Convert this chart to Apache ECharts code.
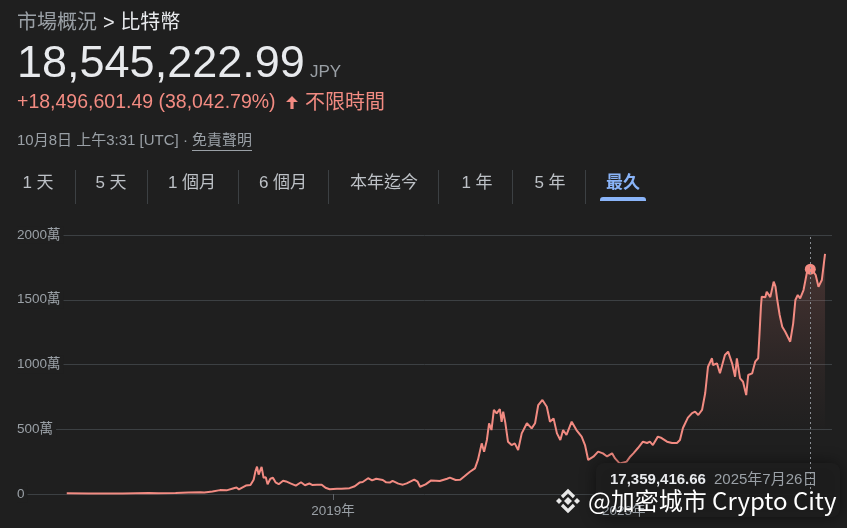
<!DOCTYPE html>
<html>
<head>
<meta charset="utf-8">
<script src="https://cdn.jsdelivr.net/npm/echarts@6/dist/echarts.min.js"></script>
<style>
  html, body { margin: 0; padding: 0; background: #1f1f1f; }
  #chart { width: 847px; height: 528px; }
</style>
</head>
<body>
<div id="chart"></div>
<script>
// BTC / JPY closing prices (JPY), full history
const dates = [
  '2015-05-04','2015-08-20','2015-11-05','2016-02-10','2016-06-18','2016-08-05','2016-11-01',
  '2017-01-04','2017-01-12','2017-03-05','2017-03-25','2017-05-05','2017-06-12','2017-07-15','2017-08-20',
  '2017-09-03','2017-09-15','2017-10-20','2017-11-12','2017-11-28','2017-12-07','2017-12-15','2017-12-23',
  '2018-01-01','2018-01-07','2018-01-17','2018-01-28','2018-02-06','2018-02-20','2018-03-05','2018-03-18',
  '2018-04-03','2018-04-25','2018-05-10','2018-06-01','2018-06-28','2018-07-24','2018-08-13','2018-09-04',
  '2018-09-18','2018-10-12','2018-11-05','2018-11-24','2018-12-15',
  '2019-01-20','2019-02-12','2019-03-25','2019-04-20','2019-05-14','2019-05-30','2019-06-26','2019-07-16',
  '2019-08-06','2019-09-08','2019-09-25','2019-10-13','2019-10-27','2019-11-25','2019-12-18',
  '2020-01-06','2020-02-13','2020-03-01','2020-03-13','2020-04-10','2020-05-08','2020-06-01','2020-06-20',
  '2020-07-27','2020-08-10','2020-09-08','2020-10-01','2020-10-21','2020-11-19','2020-12-14','2020-12-29',
  '2021-01-17','2021-01-29','2021-02-12','2021-02-23','2021-03-07','2021-03-19','2021-04-02','2021-04-18',
  '2021-04-27','2021-05-05','2021-05-16','2021-05-29','2021-06-16','2021-07-02','2021-07-19','2021-08-06',
  '2021-09-01','2021-09-25','2021-10-12','2021-10-28','2021-11-18','2021-12-10','2021-12-26',
  '2022-01-13','2022-01-30','2022-02-16','2022-03-02','2022-03-19','2022-04-14','2022-05-08','2022-06-03',
  '2022-06-20','2022-07-06','2022-08-01','2022-08-25','2022-09-18','2022-10-09','2022-11-03','2022-11-18',
  '2022-12-12',
  '2023-01-15','2023-02-03','2023-02-18','2023-03-13','2023-04-07','2023-04-28','2023-05-12','2023-05-27',
  '2023-06-21','2023-07-10','2023-08-06','2023-08-31','2023-09-25','2023-10-10','2023-10-25','2023-11-19',
  '2023-12-10','2023-12-25',
  '2024-01-10','2024-01-29','2024-02-14','2024-02-28','2024-03-19','2024-03-24','2024-04-13','2024-04-28',
  '2024-05-23','2024-06-08','2024-06-28','2024-07-13','2024-07-22','2024-08-07','2024-08-22','2024-09-07',
  '2024-09-17','2024-10-07','2024-10-22','2024-11-06','2024-11-13','2024-11-20','2024-11-24','2024-12-12',
  '2024-12-19',
  '2025-01-06','2025-01-23','2025-02-01','2025-02-10','2025-02-22','2025-03-07','2025-03-22','2025-04-16',
  '2025-05-01','2025-05-12','2025-05-24','2025-06-05','2025-06-22','2025-07-14','2025-07-26','2025-08-10',
  '2025-08-22','2025-09-05','2025-09-22','2025-09-30','2025-10-08'
];
const prices = [
  48621.5, 30000, 46000, 45000, 80000, 65000, 80000,
  120000, 95000, 140000, 110000, 200000, 300000, 280000, 450000,
  500000, 360000, 650000, 700000, 1100000, 1750000, 2110000, 1500000,
  1650000, 2100000, 1250000, 1300000, 750000, 1180000, 1250000, 900000,
  760000, 1030000, 970000, 820000, 650000, 910000, 680000, 810000,
  700000, 710000, 720000, 480000, 370000,
  400000, 400000, 450000, 600000, 880000, 930000, 1220000, 1050000,
  1180000, 1080000, 900000, 880000, 1020000, 800000, 720000,
  820000, 1110000, 950000, 560000, 740000, 1050000, 1030000, 1000000,
  1180000, 1260000, 1080000, 1100000, 1350000, 1720000, 1980000, 2630000,
  3910000, 3270000, 4170000, 5460000, 4940000, 6490000, 6230000, 6550000,
  5580000, 6360000, 5460000, 4040000, 3780000, 3910000, 3400000, 4680000,
  5460000, 5070000, 5460000, 6870000, 7260000, 6740000, 5580000,
  5840000, 4680000, 4170000, 4940000, 4560000, 5580000, 4940000, 4430000,
  3780000, 2630000, 2880000, 3270000, 3140000, 2900000, 3140000, 2750000,
  2350000,
  2500000, 2900000, 3140000, 3550000, 4040000, 3940000, 4040000, 3780000,
  4430000, 4320000, 4040000, 3940000, 3940000, 4170000, 5100000, 5900000,
  6250000, 6360000,
  6100000, 6490000, 7800000, 9830000, 10480000, 9960000, 10090000, 9320000,
  10730000, 10990000, 10090000, 9060000, 10480000, 8930000, 8670000, 7640000,
  9190000, 9320000, 10220000, 10480000, 12410000, 14500000, 15240000, 15200000,
  15620000,
  15200000, 16400000, 16010000, 14980000, 13820000, 12920000, 12530000, 11760000,
  13180000, 14980000, 15370000, 15110000, 15750000, 17500000, 17359416.66, 17170000,
  16910000, 16000000, 16530000, 16660000, 18545222.99
];

// Highlighted day
const hoverDate = '2025-07-26';
const hoverPrice = 17359416.66;

// Axis ticks and range
const xRange = ['2014-08-27', '2025-11-12'];
const xTickYears = [2019, 2023];
const yTickValues = [0, 5000000, 10000000, 15000000, 20000000];
const yTickLabels = ['0', '500萬', '1000萬', '1500萬', '2000萬'];

// Range selector
const tabLabels = ['1 天', '5 天', '1 個月', '6 個月', '本年迄今', '1 年', '5 年', '最久'];
const tabCenters = [38, 111, 192, 283, 384, 477, 550, 623];
const tabDividers = [75, 147, 238, 328, 438, 512, 585];

const FONT = "'Liberation Sans', Arial, 'Noto Sans CJK TC', sans-serif";
const CJK = "'Noto Sans CJK TC', 'Liberation Sans', sans-serif";
const BG = '#1f1f1f';
const LINE = '#f28b82';

// dates are plotted as UTC day timestamps on a numeric axis
function ts(s) {
  const [y, m, d] = s.split('-').map(Number);
  return Date.UTC(y, m - 1, d);
}
const seriesData = dates.map((d, i) => [ts(d), prices[i]]);
const yearStamps = xTickYears.map(y => Date.UTC(y, 0, 1));

function fmtPrice(v) {
  return v.toLocaleString('en-US', { minimumFractionDigits: 2, maximumFractionDigits: 2 });
}
function fmtDate(s) {
  const [y, m, d] = s.split('-').map(Number);
  return y + '年' + m + '月' + d + '日';
}

// filled "up" arrow next to the change figure
const arrow = { cx: 292, top: 96, bottom: 109 };
const arrowPoints = [
  [arrow.cx, arrow.top], [arrow.cx + 6, arrow.top + 6], [arrow.cx + 1.6, arrow.top + 6],
  [arrow.cx + 1.6, arrow.bottom], [arrow.cx - 1.6, arrow.bottom], [arrow.cx - 1.6, arrow.top + 6],
  [arrow.cx - 6, arrow.top + 6]
];

const graphics = [
  // header
  { type: 'text', x: 17, y: 23, style: { text: '市場概況', fill: '#9aa0a6', font: `20px ${FONT}`, verticalAlign: 'middle' } },
  { type: 'text', x: 103, y: 23, style: { text: '> 比特幣', fill: '#e8eaed', font: `20px ${FONT}`, verticalAlign: 'middle' } },
  { type: 'text', x: 17, y: 65, style: { text: '18,545,222.99', fill: '#e8eaed', font: `45px ${FONT}`, verticalAlign: 'middle' } },
  { type: 'text', x: 310, y: 72, style: { text: 'JPY', fill: '#9aa0a6', font: `17px ${FONT}`, verticalAlign: 'middle' } },
  { type: 'text', x: 17, y: 103, style: { text: '+18,496,601.49 (38,042.79%)', fill: LINE, font: `19.5px ${FONT}`, verticalAlign: 'middle' } },
  { type: 'polygon', shape: { points: arrowPoints }, style: { fill: LINE } },
  { type: 'text', x: 305, y: 103, style: { text: '不限時間', fill: LINE, font: `20px ${FONT}`, verticalAlign: 'middle' } },
  { type: 'text', x: 17, y: 141, style: { text: '10月8日 上午3:31 [UTC] · ', fill: '#9aa0a6', font: `15px ${FONT}`, verticalAlign: 'middle' } },
  { type: 'text', x: 192, y: 141, style: { text: '免責聲明', fill: '#9aa0a6', font: `15px ${FONT}`, verticalAlign: 'middle' } },
  { type: 'line', shape: { x1: 192, y1: 150.5, x2: 252, y2: 150.5 }, style: { stroke: '#9aa0a6', lineWidth: 1 } },
  // selected-range underline
  { type: 'rect', shape: { x: 600, y: 197, width: 46, height: 4, r: [3, 3, 0, 0] }, style: { fill: '#8ab4f8' } }
];
tabLabels.forEach((t, i) => {
  const active = i === tabLabels.length - 1;
  graphics.push({ type: 'text', x: tabCenters[i], y: 183, style: {
    text: t, fill: active ? '#8ab4f8' : '#bdc1c6',
    font: `${active ? 'bold ' : ''}17px ${FONT}`, align: 'center', verticalAlign: 'middle' } });
});
tabDividers.forEach(x => {
  graphics.push({ type: 'line', shape: { x1: x + 0.5, y1: 170, x2: x + 0.5, y2: 204 }, style: { stroke: '#3c4043', lineWidth: 1 } });
});

// hover read-out box
graphics.push({ type: 'rect', z: 5, shape: { x: 596, y: 463, width: 244, height: 54, r: 8 },
  style: { fill: 'rgba(30,30,30,0.9)', shadowBlur: 16, shadowColor: 'rgba(0,0,0,0.55)' } });
graphics.push({ type: 'text', z: 6, x: 610, y: 480, style: { text: fmtPrice(hoverPrice), fill: '#e8eaed', font: `bold 15px ${FONT}`, verticalAlign: 'middle' } });
graphics.push({ type: 'text', z: 6, x: 714, y: 480, style: { text: fmtDate(hoverDate), fill: '#9aa0a6', font: `15px ${FONT}`, verticalAlign: 'middle' } });

// channel mark
const logo = { cx: 568, cy: 501 };
const diamond = (cx, cy, r) => [[cx, cy - r], [cx + r, cy], [cx, cy + r], [cx - r, cy]];
graphics.push({ type: 'polygon', z: 20, shape: { points: diamond(logo.cx, logo.cy, 4) }, style: { fill: '#e8e8e8' } });
graphics.push({ type: 'polygon', z: 20, shape: { points: diamond(logo.cx - 9, logo.cy, 3) }, style: { fill: '#e8e8e8' } });
graphics.push({ type: 'polygon', z: 20, shape: { points: diamond(logo.cx + 9, logo.cy, 3) }, style: { fill: '#e8e8e8' } });
graphics.push({ type: 'polyline', z: 20, shape: { points: [[logo.cx - 6, logo.cy - 4], [logo.cx, logo.cy - 10], [logo.cx + 6, logo.cy - 4]] }, style: { stroke: '#e8e8e8', lineWidth: 3.2, fill: null } });
graphics.push({ type: 'polyline', z: 20, shape: { points: [[logo.cx - 6, logo.cy + 4], [logo.cx, logo.cy + 10], [logo.cx + 6, logo.cy + 4]] }, style: { stroke: '#e8e8e8', lineWidth: 3.2, fill: null } });
graphics.push({ type: 'text', z: 20, x: 588, y: 501, style: {
  text: '@加密城市 Crypto City', fill: '#ffffff', font: `24px ${CJK}`, verticalAlign: 'middle',
  shadowBlur: 4, shadowColor: 'rgba(0,0,0,0.6)' } });

const chart = echarts.init(document.getElementById('chart'), null, { renderer: 'canvas' });
chart.setOption({
  backgroundColor: BG,
  animation: false,
  textStyle: { fontFamily: FONT },
  grid: { left: 17, right: 15, top: 235, bottom: 34, containLabel: false, outerBoundsMode: 'none' },
  xAxis: {
    type: 'value',
    min: ts(xRange[0]),
    max: ts(xRange[1]),
    z: 10,
    axisLine: { show: false },
    splitLine: { show: false },
    axisTick: { show: true, customValues: yearStamps, length: 6, lineStyle: { color: '#5f6368' } },
    axisLabel: {
      customValues: yearStamps,
      formatter: v => new Date(v).getUTCFullYear() + '年',
      color: '#9aa0a6', fontSize: 13.5, margin: 11, fontFamily: FONT
    }
  },
  yAxis: [
    {
      type: 'value', min: 0, max: 20000000, interval: 5000000,
      axisLine: { show: false }, axisTick: { show: false }, axisLabel: { show: false },
      splitLine: { lineStyle: { color: '#3c4043', width: 1 } }
    },
    {
      type: 'value', min: 0, max: 20000000, interval: 5000000, position: 'left', z: 10,
      axisLine: { show: false }, axisTick: { show: false }, splitLine: { show: false },
      axisLabel: {
        inside: true, margin: 0, align: 'left', color: '#9aa0a6', fontSize: 13.5, fontFamily: FONT,
        backgroundColor: BG, padding: [2, 3, 2, 0],
        formatter: v => yTickLabels[yTickValues.indexOf(v)]
      }
    }
  ],
  series: [
    {
      type: 'line',
      yAxisIndex: 0,
      data: seriesData,
      showSymbol: false,
      symbol: 'none',
      z: 2,
      lineStyle: { color: LINE, width: 2 },
      areaStyle: {
        color: new echarts.graphic.LinearGradient(0, 0, 0, 1, [
          { offset: 0, color: 'rgba(242,139,130,0.28)' },
          { offset: 0.45, color: 'rgba(242,139,130,0.09)' },
          { offset: 0.75, color: 'rgba(242,139,130,0)' }
        ])
      },
      markLine: {
        silent: true,
        symbol: 'none',
        label: { show: false },
        lineStyle: { color: '#8a8f94', type: [2, 3], width: 1 },
        data: [{ xAxis: ts(hoverDate) }]
      }
    },
    {
      type: 'scatter',
      yAxisIndex: 0,
      z: 3,
      data: [[ts(hoverDate), hoverPrice]],
      symbolSize: 11,
      itemStyle: { color: LINE, opacity: 1 }
    }
  ],
  graphic: graphics
});
</script>
</body>
</html>
